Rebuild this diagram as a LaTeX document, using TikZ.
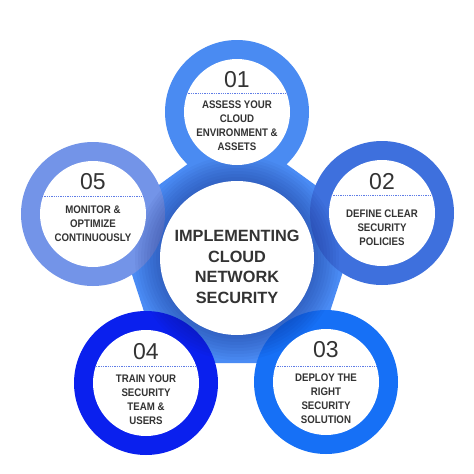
\documentclass[tikz,border=0pt]{standalone}
\usepackage{fontspec}
\setmainfont{Liberation Sans}
\newfontfamily\smallf[FakeStretch=0.88]{Liberation Sans}
\newfontfamily\numf{Liberation Sans}
\usetikzlibrary{shapes.geometric}
\definecolor{ringA}{RGB}{74,139,242}
\definecolor{ringB}{RGB}{62,112,221}
\definecolor{ringC}{RGB}{22,112,246}
\definecolor{ringD}{RGB}{10,32,238}
\definecolor{ringE}{RGB}{115,148,232}
\definecolor{penta}{RGB}{74,139,244}
\definecolor{dashc}{RGB}{95,125,230}
\definecolor{txt}{RGB}{51,51,51}
\definecolor{shadc}{RGB}{10,25,110}
\tikzset{
  ring/.style={circle, inner sep=0pt, minimum size=144pt},
  inner/.style={circle, inner sep=0pt, minimum size=106pt, fill=white},
  numlbl/.style={font=\numf\fontsize{23}{23}\selectfont, text=txt, inner sep=0pt},
  steplbl/.style={font=\smallf\bfseries\fontsize{11}{14}\selectfont, text=txt, align=center, inner sep=0pt},
  divider/.style={dashc, line width=0.6pt, dash pattern=on 1.3pt off 1pt},
}
\begin{document}
\begin{tikzpicture}[x=1pt,y=-1pt]
\useasboundingbox (0,0) rectangle (474,474);
\fill[white] (0,0) rectangle (474,474);
% hub pentagon
\node[regular polygon, regular polygon sides=5, minimum size=259.6pt, inner sep=0pt, outer sep=0pt, fill=penta] (hub) at (237,258) {};
% outer rings
\node[ring, fill=ringA] (r1) at (237,112) {};
\node[ring, fill=ringB] (r2) at (382,213) {};
\node[ring, fill=ringC] (r3) at (326,382) {};
\node[ring, fill=ringD] (r4) at (146,383) {};
\node[ring, fill=ringE] (r5) at (93,214) {};
% shadow around centre
\foreach \rr in {78,81,...,102} {
  \fill[shadc, opacity=0.045] (237,258) circle[radius=\rr pt];
}
% inner white discs
\node[inner] (w1) at (r1) {};
\node[inner] (w2) at (r2) {};
\node[inner] (w3) at (r3) {};
\node[inner] (w4) at (r4) {};
\node[inner] (w5) at (r5) {};
% dividers
\coordinate (d1a) at (186,93);  \coordinate (d1b) at (288,93);
\coordinate (d2a) at (331,195); \coordinate (d2b) at (433,195);
\coordinate (d3a) at (275,366); \coordinate (d3b) at (377,366);
\coordinate (d4a) at (96,366);  \coordinate (d4b) at (197,366);
\coordinate (d5a) at (42,196);  \coordinate (d5b) at (144,196);
\draw[divider] (d1a) -- (d1b);
\draw[divider] (d2a) -- (d2b);
\draw[divider] (d3a) -- (d3b);
\draw[divider] (d4a) -- (d4b);
\draw[divider] (d5a) -- (d5b);
% numbers
\node[numlbl] (n1) at (237,80) {01};
\node[numlbl] (n2) at (382,182) {02};
\node[numlbl] (n3) at (326,350) {03};
\node[numlbl] (n4) at (146,352) {04};
\node[numlbl] (n5) at (93,182) {05};
% step texts
\node[steplbl] (t1) at (237,126) {ASSESS YOUR\\CLOUD\\ENVIRONMENT \&\\ASSETS};
\node[steplbl] (t2) at (382,228) {DEFINE CLEAR\\SECURITY\\POLICIES};
\node[steplbl] (t3) at (326,399) {DEPLOY THE\\RIGHT\\SECURITY\\SOLUTION};
\node[steplbl] (t4) at (146,400) {TRAIN YOUR\\SECURITY\\TEAM \&\\USERS};
\node[steplbl] (t5) at (93,224) {MONITOR \&\\OPTIMIZE\\CONTINUOUSLY};
% centre
\node[circle, inner sep=0pt, minimum size=154pt, fill=white] (c) at (237,258) {};
\node[font=\bfseries\fontsize{16.3}{20.5}\selectfont, text=txt, align=center, inner sep=0pt] (ct) at (237,267) {IMPLEMENTING\\CLOUD\\NETWORK\\SECURITY};
\end{tikzpicture}
\end{document}
